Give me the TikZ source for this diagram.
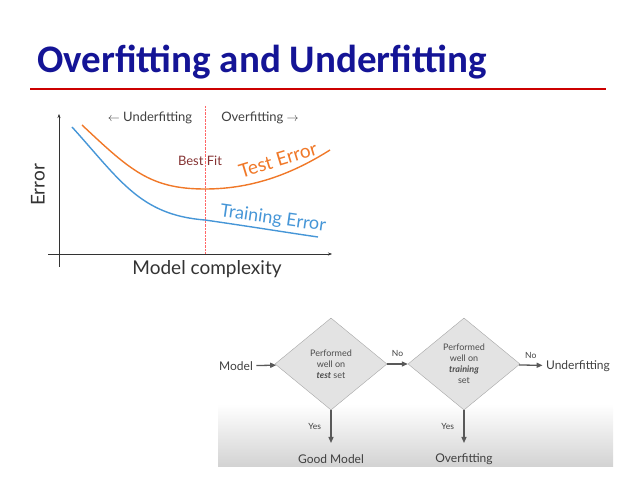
\documentclass[tikz,border=0pt]{standalone}
\usepackage{fontspec}
\setmainfont{Lato}
\newfontfamily\titlefont{Carlito}
\usetikzlibrary{shapes.geometric,arrows.meta}
\definecolor{tblue}{RGB}{20,20,150}
\definecolor{torange}{RGB}{240,120,40}
\definecolor{cblue}{RGB}{70,150,215}
\tikzset{
  dia/.style={diamond,draw=gray!70,fill=gray!22,minimum width=112pt,minimum height=92pt,inner sep=0pt,align=center,font=\fontsize{9}{11}\selectfont,text=black!70},
  flab/.style={font=\fontsize{12}{14}\selectfont,text=black!75},
  small/.style={font=\fontsize{8.5}{10}\selectfont,text=black!75},
  farr/.style={-{Triangle[length=6pt,width=5pt]},line width=1.3pt,draw=black!65},
  glab/.style={font=\fontsize{13}{15}\selectfont,text=black!75}
}
\begin{document}
\begin{tikzpicture}[x=1pt,y=-1pt]
\useasboundingbox (0,0) rectangle (638,478);
\node[anchor=west,font=\titlefont\bfseries\fontsize{39}{41}\selectfont,text=tblue,inner sep=0] (title) at (37,62) {Overfitting and Underfitting};
\draw[red!80!black,line width=1.2pt] (30,89) -- (606,89);
% chart
\coordinate (yt) at (59,114);
\coordinate (xr) at (332,254);
\draw[-{Stealth[length=4pt]},black!80] (59,267) -- (yt);
\draw[-{Stealth[length=4pt]},black!80] (48,254) -- (xr);
\draw[red!60,densely dotted] (205,106) -- (205,254);
\draw[torange,line width=1.4pt] (82,125) .. controls (130,170) and (150,189) .. (205,189) .. controls (255,189) and (295,172) .. (330,150);
\draw[cblue,line width=1.4pt] (72,127) .. controls (120,180) and (140,215) .. (205,220) .. controls (260,228) and (290,233) .. (318,237);
\node[glab] (uf) at (150,118) {$\leftarrow$ Underfitting};
\node[glab] (of) at (260,118) {Overfitting $\rightarrow$};
\node[glab,text=red!40!black!80] (bf) at (200,161) {Best Fit};
\node[font=\fontsize{19}{21}\selectfont,text=torange,rotate=17] (te) at (278,160) {Test Error};
\node[font=\fontsize{18}{20}\selectfont,text=cblue,rotate=-8] (tr) at (273,219) {Training Error};
\node[font=\fontsize{19}{21}\selectfont,text=black!80,rotate=90] (er) at (38,185) {Error};
\node[font=\fontsize{19}{21}\selectfont,text=black!80] (mc) at (207,269) {Model complexity};
% flowchart
\shade[top color=white,bottom color=gray!35] (218,404) rectangle (613,467);
\node[dia] (d1) at (331,364) {Performed\\well on\\\textbf{\textit{test}} set};
\node[dia] (d2) at (464,364) {Performed\\well on\\\textbf{\textit{training}}\\set};
\node[flab] (m) at (236,366) {Model};
\node[flab] (u) at (578,366) {Underfitting};
\node[flab] (g) at (331,459) {Good Model};
\node[flab] (ov) at (464,459) {Overfitting};
\draw[farr] (m) -- (d1);
\draw[farr] (d1) -- node[small,above=3pt]{No} (d2);
\draw[farr] (d2) -- node[small,above=3pt]{No} (u);
\draw[farr] (d1.south) -- node[small,left=6pt]{Yes} (331,443);
\draw[farr] (d2.south) -- node[small,left=6pt]{Yes} (464,443);
\end{tikzpicture}
\end{document}
